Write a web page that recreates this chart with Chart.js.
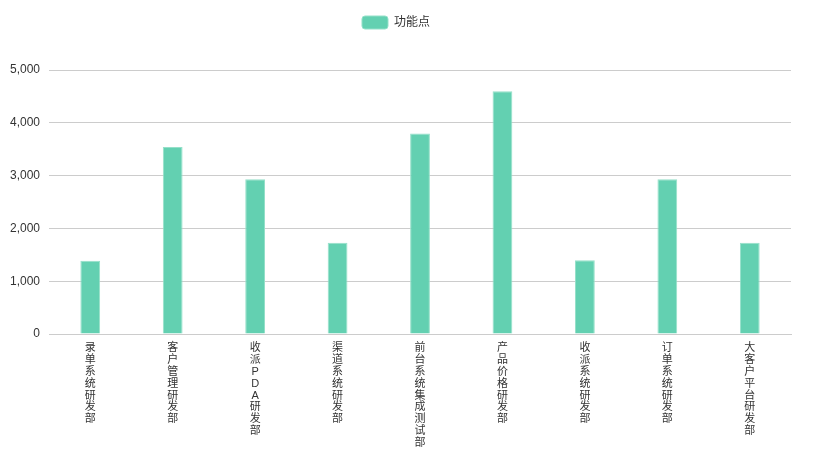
<!DOCTYPE html>
<html>
<head>
<meta charset="utf-8">
<script src="https://cdn.jsdelivr.net/npm/chart.js@4/dist/chart.umd.min.js"></script>
<style>
  html, body { margin: 0; padding: 0; background: #fff; }
  #wrap { width: 817px; height: 469px; position: relative; }
</style>
</head>
<body>
<div id="wrap"><canvas id="deptChart"></canvas></div>
<script>
// department names and function point totals
const departments = [
  "录单系统研发部",
  "客户管理研发部",
  "收派PDA研发部",
  "渠道系统研发部",
  "前台系统集成测试部",
  "产品价格研发部",
  "收派系统研发部",
  "订单系统研发部",
  "大客户平台研发部"
];
const functionPoints = [1390, 3540, 2930, 1730, 3800, 4600, 1400, 2930, 1730];
const seriesName = "功能点";
const yTicks = [0, 1000, 2000, 3000, 4000, 5000];

const fontFamily = "'Helvetica Neue', Arial, 'Liberation Sans', 'Noto Sans CJK SC', sans-serif";

// vertical labels: one character per line
const stackedLabels = departments.map(name => Array.from(name));

// push the plot down a bit below the legend
const legendGap = {
  id: "legendGap",
  beforeLayout(chart) {
    const legend = chart.legend;
    if (!legend || legend._gapPatched) return;
    const fit = legend.fit;
    legend.fit = function () {
      fit.call(this);
      this.height += 31;
    };
    legend._gapPatched = true;
  }
};

const ctx = document.getElementById("deptChart").getContext("2d");
window.deptChart = new Chart(ctx, {
  type: "bar",
  data: {
    labels: stackedLabels,
    datasets: [{
      label: seriesName,
      data: functionPoints,
      backgroundColor: "#63d0b1",
      borderColor: "#95e0c9",
      borderWidth: 1,
      barPercentage: 0.3,
      categoryPercentage: 0.8
    }]
  },
  options: {
    responsive: true,
    maintainAspectRatio: false,
    animation: false,
    layout: { padding: { top: 6, right: 26, bottom: 12, left: 1 } },
    plugins: {
      legend: {
        position: "top",
        labels: {
          boxWidth: 26,
          boxHeight: 13,
          useBorderRadius: true,
          borderRadius: 3,
          color: "#333",
          font: { size: 12, family: fontFamily },
          padding: 10
        }
      },
      tooltip: { enabled: false }
    },
    scales: {
      x: {
        grid: { display: false, drawTicks: false },
        border: { display: true, color: "#cccccc" },
        ticks: {
          autoSkip: false,
          maxRotation: 0,
          minRotation: 0,
          padding: 8,
          color: "#333",
          font: { size: 11, family: fontFamily, lineHeight: 1.08 }
        }
      },
      y: {
        min: yTicks[0],
        max: yTicks[yTicks.length - 1],
        afterBuildTicks: axis => { axis.ticks = yTicks.map(v => ({ value: v })); },
        grid: { color: "#cccccc", drawTicks: false },
        border: { display: false },
        ticks: {
          padding: 9,
          color: "#333",
          font: { size: 12, family: fontFamily },
          callback: v => v.toLocaleString("en-US")
        }
      }
    }
  },
  plugins: [legendGap]
});
</script>
</body>
</html>
